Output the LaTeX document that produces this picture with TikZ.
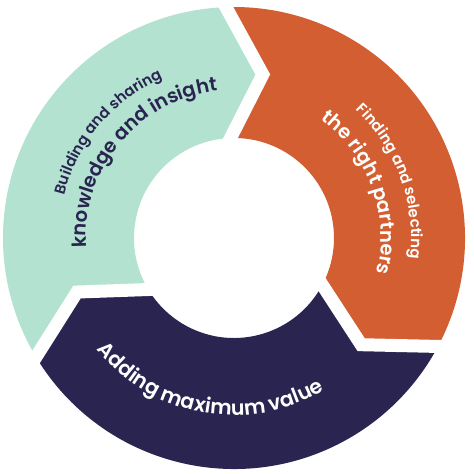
\documentclass[tikz,border=0pt]{standalone}
\usepackage{fontspec}
\setmainfont{Poppins}
\newfontfamily\semifont{Poppins SemiBold}
\usepackage{xcolor}
\usetikzlibrary{calc,decorations.text}

\definecolor{mint}{RGB}{179,226,208}
\definecolor{rust}{RGB}{211,94,50}
\definecolor{navy}{RGB}{41,37,80}

\newcommand{\fsz}[1]{\fontsize{#1}{#1}\selectfont}
\def\Rout{231}
\def\Rin{100}
\def\Rmid{166}

\begin{document}
\begin{tikzpicture}[x=1pt, y=1pt,
  gap/.style={draw=white, line width=13pt, line join=miter},
  ringtext/.style={decorate, decoration={text along path, text align=center, text color=#1}}]
\useasboundingbox (-234,-236) rectangle (240,238);

\foreach \a/\b/\c in {211/92/mint, 92/-28/rust, -28/-149/navy}
  \fill[\c] (\a:\Rout) -- ({\a-12}:\Rmid) -- (\a:\Rin)
    arc[start angle=\a, end angle=\b, radius=\Rin]
    -- ({\b-12}:\Rmid) -- (\b:\Rout)
    arc[start angle=\b, end angle=\a, radius=\Rout] -- cycle;

\foreach \b [count=\i] in {92,-28,-149} {
  \coordinate (out\i) at (\b:\Rout);
  \coordinate (tip\i) at ({\b-12}:\Rmid);
  \coordinate (in\i) at (\b:\Rin);
  \draw[gap] ($(tip\i)!1.3!(out\i)$) -- (tip\i) -- ($(tip\i)!1.6!(in\i)$);
}

\path[ringtext=navy, decoration={text={|\semifont\fsz{15}|Building and sharing}}]
  (200:175) arc[start angle=200, end angle=80, radius=175];
\path[ringtext=navy, decoration={text={|\semifont\fsz{19.5}|knowledge and insight}}]
  (200:148) arc[start angle=200, end angle=80, radius=148];

\path[ringtext=white, decoration={text={|\semifont\fsz{15}|Finding and selecting}}]
  (80:177) arc[start angle=80, end angle=-40, radius=177];
\path[ringtext=white, decoration={text={|\semifont\fsz{19.5}|the right partners}}]
  (80:147) arc[start angle=80, end angle=-40, radius=147];

\path[ringtext=white, decoration={text={|\semifont\fsz{20.5}|Adding maximum value}}]
  (-160:177) arc[start angle=-160, end angle=-40, radius=177];
\end{tikzpicture}
\end{document}
